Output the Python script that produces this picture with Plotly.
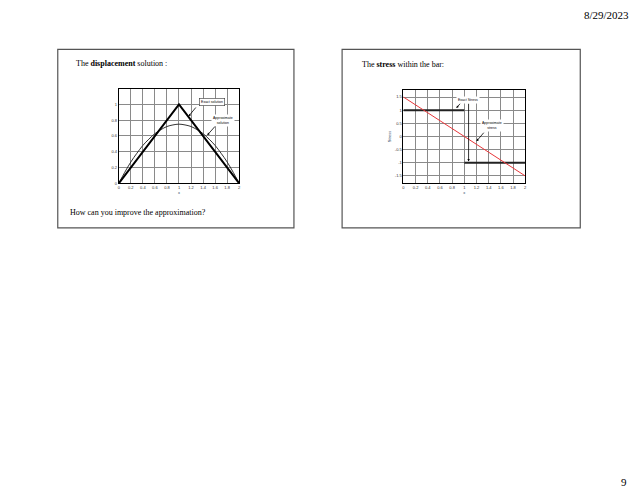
import plotly.graph_objs as go

# - - datos
x_exacta = [0, 1, 2]
u_exacta = [0, 1, 0]

x_aprox = [0, 0.1, 0.2, 0.3, 0.4, 0.5, 0.6, 0.7, 0.8, 0.9, 1.0,
           1.1, 1.2, 1.3, 1.4, 1.5, 1.6, 1.7, 1.8, 1.9, 2.0]
u_aprox = [0, 0.14, 0.27, 0.38, 0.48, 0.56, 0.63, 0.68, 0.72, 0.74, 0.75,
           0.74, 0.72, 0.68, 0.63, 0.56, 0.48, 0.38, 0.27, 0.14, 0]

x_esf_exacto = [0, 1, None, 1, 2]
esf_exacto = [1, 1, None, -1, -1]

x_esf_aprox = [0, 2]
esf_aprox = [1.5, -1.5]

ticks_x = [0, 0.2, 0.4, 0.6, 0.8, 1, 1.2, 1.4, 1.6, 1.8, 2]
etiq_x = ['0', '0.2', '0.4', '0.6', '0.8', '1', '1.2', '1.4', '1.6', '1.8', '2']
ticks_u = [0, 0.2, 0.4, 0.6, 0.8, 1]
etiq_u = ['0', '0.2', '0.4', '0.6', '0.8', '1']
ticks_s = [-1.5, -1, -0.5, 0, 0.5, 1, 1.5]
etiq_s = ['-1.5', '-1', '-0.5', '0', '0.5', '1', '1.5']

# la pagina deja 8 px de margen en el body, se compensa aqui
OFF = 8
W, H = 638 - OFF, 493 - OFF


def px(x):
    return (x - OFF) / W


def py(y):
    return 1 - (y - OFF) / H


fig = go.Figure()

# desplazamiento
fig.add_trace(go.Scatter(x=x_aprox, y=u_aprox, mode='lines', line=dict(color='#333333', width=1, shape='spline'),
                         xaxis='x', yaxis='y', showlegend=False))
fig.add_trace(go.Scatter(x=x_exacta, y=u_exacta, mode='lines', line=dict(color='black', width=2),
                         xaxis='x', yaxis='y', showlegend=False))

# esfuerzo
fig.add_trace(go.Scatter(x=x_esf_exacto, y=esf_exacto, mode='lines', line=dict(color='#222222', width=2),
                         xaxis='x2', yaxis='y2', showlegend=False))
fig.add_trace(go.Scatter(x=x_esf_aprox, y=esf_aprox, mode='lines', line=dict(color='#e8373a', width=1),
                         xaxis='x2', yaxis='y2', showlegend=False))

sans = 'Liberation Sans'
eje = dict(showgrid=True, gridcolor='#8a8a8a', gridwidth=0.6, showline=True, linecolor='black',
           linewidth=0.8, mirror=True, zeroline=False, ticks='', tickfont=dict(size=4, family=sans, color='#333'))

fig.update_layout(
    width=W, height=H, margin=dict(l=0, r=0, t=0, b=0),
    paper_bgcolor='white', plot_bgcolor='white',
    xaxis=dict(eje, domain=[px(118.3), px(239.3)], range=[0, 2], tickvals=ticks_x, ticktext=etiq_x,
               title=dict(text='x', font=dict(size=4, family=sans), standoff=2)),
    yaxis=dict(eje, domain=[py(184), py(89)], range=[0, 1.2], tickvals=ticks_u + [1.2], ticktext=etiq_u + ['']),
    xaxis2=dict(eje, anchor='y2', domain=[px(404.3), px(526.7)], range=[0, 2], tickvals=ticks_x, ticktext=etiq_x,
                title=dict(text='x', font=dict(size=4, family=sans), standoff=2)),
    yaxis2=dict(eje, anchor='x2', domain=[py(184), py(90)], range=[-1.78, 1.78], tickvals=ticks_s, ticktext=etiq_s,
                title=dict(text='Stress', font=dict(size=4, family=sans), standoff=3)),
)

# marcos de las diapositivas
for x0, x1 in [(57, 294.3), (342.7, 582)]:
    fig.add_shape(type='rect', xref='paper', yref='paper', x0=px(x0), x1=px(x1), y0=py(228.7), y1=py(49.5),
                  line=dict(color='#555555', width=1.2), fillcolor='rgba(0,0,0,0)', layer='below')

serif = 'Liberation Serif'
fig.add_annotation(xref='paper', yref='paper', x=px(73), y=py(64), xanchor='left', yanchor='middle',
                   text='The <b>displacement</b> solution :', showarrow=False,
                   font=dict(family=serif, size=8, color='black'))
fig.add_annotation(xref='paper', yref='paper', x=px(67), y=py(213), xanchor='left', yanchor='middle',
                   text='How can you improve the approximation?', showarrow=False,
                   font=dict(family=serif, size=8, color='black'))
fig.add_annotation(xref='paper', yref='paper', x=px(360.7), y=py(65), xanchor='left', yanchor='middle',
                   text='The <b>stress</b> within the bar:', showarrow=False,
                   font=dict(family=serif, size=8, color='black'))
fig.add_annotation(xref='paper', yref='paper', x=px(632), y=1, xanchor='right', yanchor='top', borderpad=0,
                   text='8/29/2023', showarrow=False, font=dict(family=serif, size=11, color='black'))
fig.add_annotation(xref='paper', yref='paper', x=px(631), y=py(484), xanchor='right', yanchor='middle',
                   text='9', showarrow=False, font=dict(family=serif, size=11, color='black'))

# etiquetas y flechas del desplazamiento
nota = dict(family=sans, size=3.5, color='black')
fig.add_annotation(xref='x', yref='y', x=1.54, y=1.03, text='Exact solution', showarrow=False, font=nota,
                   bordercolor='#333', borderwidth=0.6, borderpad=1.5, bgcolor='white')
fig.add_annotation(xref='x', yref='y', x=1.16, y=0.85, ax=1.3, ay=0.98, axref='x', ayref='y', text='',
                   showarrow=True, arrowhead=2, arrowsize=0.6, arrowwidth=0.8, arrowcolor='black')
fig.add_annotation(xref='x', yref='y', x=1.73, y=0.80, text='Approximate<br>solution', showarrow=False,
                   font=nota, bgcolor='white')
fig.add_annotation(xref='x', yref='y', x=1.47, y=0.61, ax=1.62, ay=0.74, axref='x', ayref='y', text='',
                   showarrow=True, arrowhead=2, arrowsize=0.6, arrowwidth=0.8, arrowcolor='black')

# etiquetas y flechas del esfuerzo
fig.add_annotation(xref='x2', yref='y2', x=1.06, y=1.4, text='Exact Stress', showarrow=False, font=nota,
                   bgcolor='white')
fig.add_annotation(xref='x2', yref='y2', x=0.87, y=1.08, ax=0.95, ay=1.3, axref='x2', ayref='y2', text='',
                   showarrow=True, arrowhead=2, arrowsize=0.6, arrowwidth=0.8, arrowcolor='black')
fig.add_annotation(xref='x2', yref='y2', x=1.07, y=-0.95, ax=1.07, ay=1.3, axref='x2', ayref='y2', text='',
                   showarrow=True, arrowhead=2, arrowsize=0.6, arrowwidth=0.8, arrowcolor='black')
fig.add_annotation(xref='x2', yref='y2', x=1.45, y=0.4, text='Approximate<br>stress', showarrow=False,
                   font=nota, bgcolor='white')
fig.add_annotation(xref='x2', yref='y2', x=1.2, y=-0.18, ax=1.34, ay=0.2, axref='x2', ayref='y2', text='',
                   showarrow=True, arrowhead=2, arrowsize=0.6, arrowwidth=0.8, arrowcolor='black')

fig.write_html("out.html")
